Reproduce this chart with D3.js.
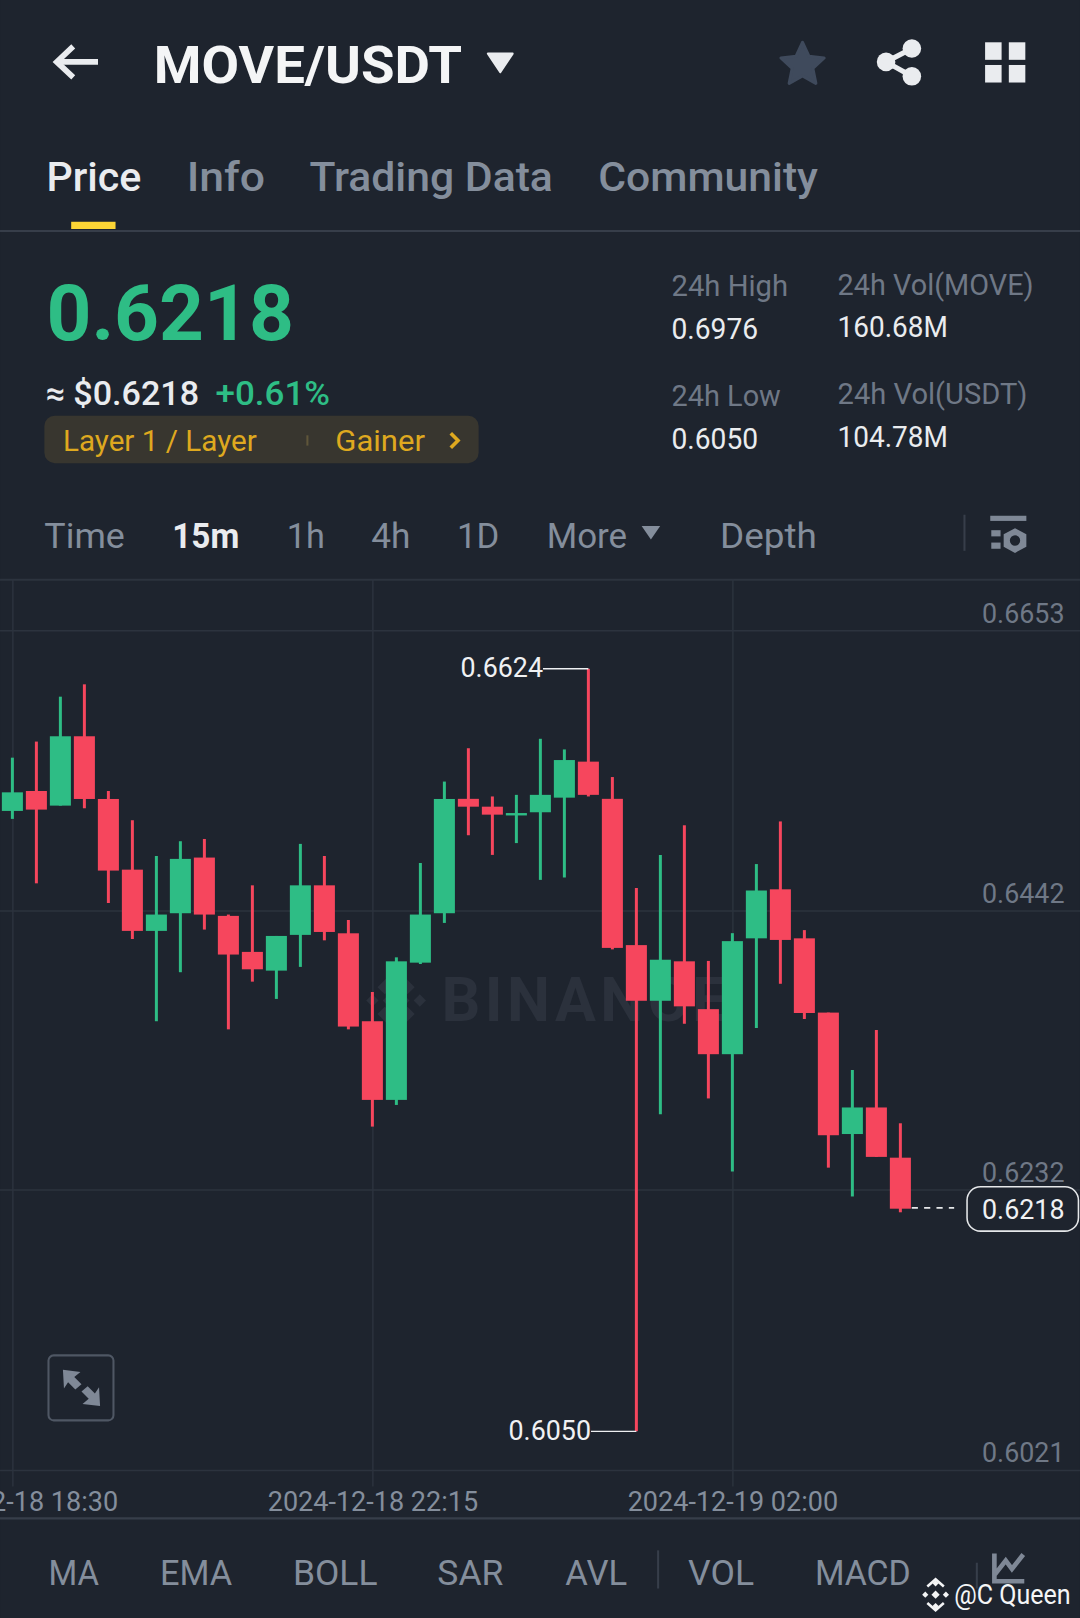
<!DOCTYPE html>
<html>
<head>
<meta charset="utf-8">
<script src="https://cdn.jsdelivr.net/npm/d3@7/dist/d3.min.js"></script>
<style>
html,body{margin:0;padding:0;background:#1e242e;overflow:hidden}
svg{display:block}
text{font-family:Roboto,"Noto Sans",sans-serif}
</style>
</head>
<body>
<svg id="c"></svg>
<script>
// ---- chart values ----
const opens  = [.65170,.65320,.65210,.65732,.65260,.64728,.64267,.64400,.64819,.64380,.64109,.63968,.64237,.64610,.64249,.63587,.62995,.64028,.64400,.65261,.65202,.65136,.65160,.65270,.65541,.65261,.64160,.63741,.64038,.63678,.63339,.64211,.64580,.64211,.63652,.62738,.62938,.62560];
const closes = [.65310,.65180,.65732,.65260,.64721,.64267,.64390,.64809,.64390,.64089,.63978,.64229,.64610,.64259,.63547,.62995,.64038,.64390,.65260,.65202,.65142,.65154,.65291,.65553,.65291,.64139,.63741,.64050,.63699,.63339,.64190,.64571,.64199,.63649,.62729,.62938,.62566,.62176];
const highs  = [.65571,.65692,.66030,.66123,.65320,.65100,.64831,.64942,.64959,.64390,.64610,.64229,.64922,.64831,.64349,.63807,.64068,.64778,.65391,.65642,.65279,.65291,.65713,.65633,.66240,.65425,.64589,.64839,.65062,.64041,.64250,.64770,.65091,.64273,.63652,.63220,.63521,.62819];
const lows   = [.65110,.64625,.65210,.65190,.64477,.64206,.63587,.63956,.64277,.63526,.63885,.63755,.63996,.64196,.63526,.62794,.62957,.64018,.64327,.64987,.64839,.64928,.64651,.64669,.65279,.64128,.60500,.62887,.63568,.63006,.62456,.63536,.63869,.63604,.62485,.62268,.62566,.62149];
const priceTicks = [0.6653,0.6442,0.6232,0.6021];
const timeTickIndex = [0,15,30];
const timeTickLabels = ["2024-12-18 18:30","2024-12-18 22:15","2024-12-19 02:00"];
const lastPrice = 0.6218, maxMark = 0.6624, minMark = 0.6050;

// ---- colours ----
const BG="#1e242e",GREEN="#2ebd85",RED="#f6465d",GRID="#2c333e",RULE="#373e4a",GRAY="#848e9c",AXIS="#6f7886",WHITE="#eaecef",GOLD="#dfa91f";

const W=1047,H=1568;
const svg=d3.select("#c").attr("width",1080).attr("height",1618).attr("viewBox",`0 0 ${W} ${H*1618/1617.4}`);
svg.append("rect").attr("width",W).attr("height",H+2).attr("fill",BG);

// ---- page text: string, x, baseline, size, width, colour, weight ----
const pageText=[
 ["MOVE/USDT",149,80,51,299,"#f4f5f6",700],
 ["Price",45,185,39,92,WHITE,500],["Info",181,185,39,76,GRAY,500],["Trading Data",300,185,39,236,GRAY,500],["Community",580,185,39,213,GRAY,500],
 ["0.6218",45,330,76,240,GREEN,700],
 ["≈ $0.6218",44,393,33,149,WHITE,500],["+0.61%",209,393,33,111,GREEN,500],
 ["Layer 1 / Layer",61,437,29,188,GOLD,400],["Gainer",325,437,29,87,GOLD,400],
 ["24h High",651,287,29,113,AXIS,400],["0.6976",651,329,29,84,WHITE,400],
 ["24h Vol(MOVE)",812,286,29,190,AXIS,400],["160.68M",812,327,29,107,WHITE,400],
 ["24h Low",651,394,29,106,AXIS,400],["0.6050",651,435,29,84,WHITE,400],
 ["24h Vol(USDT)",812,392,29,184,AXIS,400],["104.78M",812,433,29,107,WHITE,400],
 ["Time",43,531,34,78,GRAY,400],["15m",167,531,34,65,WHITE,700],["1h",278,531,34,37,GRAY,400],["4h",360,531,34,38,GRAY,400],["1D",443,531,34,41,GRAY,400],["More",530,531,34,78,GRAY,400],["Depth",698,531,34,94,GRAY,400],
 ["MA",47,1537,34,49,GRAY,400],["EMA",155,1537,34,70,GRAY,400],["BOLL",284,1537,34,82,GRAY,400],["SAR",424,1537,34,64,GRAY,400],["AVL",548,1537,34,60,GRAY,400],["VOL",667,1537,34,64,GRAY,400],["MACD",790,1537,34,93,GRAY,400]
];

// ---- scales ----
const x=d3.scaleLinear().domain([0,30]).range([12,710]);
const y=d3.scaleLinear().domain([priceTicks[0],priceTicks[3]]).range([611,1425]);

// ---- watermark under the candles ----
const wm=svg.append("g").attr("fill","#2b313c");
wm.append("text").text("BINANCE").attr("x",428).attr("y",990).attr("font-size",59).attr("font-weight",700)
  .attr("textLength",276).attr("lengthAdjust","spacing");
[[384,970,13],[361,970,6],[407,970,6]].forEach(d=>wm.append("path").attr("d",`M${d[0]-d[2]} ${d[1]}L${d[0]} ${d[1]-d[2]}L${d[0]+d[2]} ${d[1]}L${d[0]} ${d[1]+d[2]}Z`));
wm.append("path").attr("d","M384 939L402 957L395 964L384 953L373 964L366 957Z");
wm.append("path").attr("d","M384 1001L402 983L395 976L384 987L373 976L366 983Z");

// ---- axes & grid ----
svg.append("line").attr("x1",0).attr("x2",W).attr("y1",562).attr("y2",562).attr("stroke",GRID).attr("stroke-width",2);
const yAxis=svg.append("g").attr("transform",`translate(${W},0)`)
  .call(d3.axisLeft(y).tickValues(priceTicks).tickSize(W).tickPadding(0).tickFormat(d3.format(".4f")));
yAxis.select(".domain").remove();
yAxis.selectAll(".tick line").attr("stroke",GRID).attr("stroke-width",1.4);
yAxis.selectAll(".tick text").attr("x",-95).attr("y",-8).attr("dy",0).attr("text-anchor","start")
  .attr("fill",AXIS).attr("font-size",27).attr("textLength",80).attr("lengthAdjust","spacingAndGlyphs").style("font-family","Roboto");

const xAxis=svg.append("g").attr("transform","translate(0,1441)")
  .call(d3.axisBottom(x).tickValues(timeTickIndex).tickSize(-879).tickFormat((d,i)=>timeTickLabels[i]));
xAxis.select(".domain").remove();
xAxis.selectAll(".tick line").attr("stroke",GRID).attr("stroke-width",1.4);
xAxis.selectAll(".tick text").attr("y",24).attr("dy",0).attr("fill",GRAY).attr("font-size",27)
  .attr("textLength",204).attr("lengthAdjust","spacingAndGlyphs").style("font-family","Roboto");

// ---- candles ----
const idx=d3.range(opens.length);
const colour=i=>closes[i]>=opens[i]?GREEN:RED;
const cg=svg.append("g");
cg.selectAll("line.w").data(idx).join("line").attr("class","w")
  .attr("x1",x).attr("x2",x).attr("y1",i=>y(highs[i])).attr("y2",i=>y(lows[i]))
  .attr("stroke",colour).attr("stroke-width",2.9);
cg.selectAll("rect.b").data(idx).join("rect").attr("class","b")
  .attr("x",i=>x(i)-10.2).attr("width",20.4)
  .attr("y",i=>y(Math.max(opens[i],closes[i])))
  .attr("height",i=>Math.max(2,Math.abs(y(opens[i])-y(closes[i]))))
  .attr("fill",colour);

// ---- high/low markers ----
const hiI=highs.indexOf(d3.max(highs)),loI=lows.indexOf(d3.min(lows));
const mark=(val,i)=>{
  svg.append("line").attr("x1",x(i)-44).attr("x2",x(i)).attr("y1",y(val)).attr("y2",y(val)).attr("stroke","#eef0f2").attr("stroke-width",1.4);
  svg.append("text").text(d3.format(".4f")(val)).attr("x",x(i)-124).attr("y",y(val)+8)
    .attr("textLength",80).attr("lengthAdjust","spacingAndGlyphs")
    .attr("fill","#f0f1f3").attr("font-size",27);
};
mark(maxMark,hiI);mark(minMark,loI);

// ---- last price ----
svg.append("line").attr("x1",x(37)+11).attr("x2",925).attr("y1",1171).attr("y2",1171)
  .attr("stroke","#e6e8ea").attr("stroke-width",1.6).attr("stroke-dasharray","6 6");
svg.append("rect").attr("x",937.5).attr("y",1150.5).attr("width",108).attr("height",43).attr("rx",13)
  .attr("fill",BG).attr("stroke","#e6e8ea").attr("stroke-width",1.5);
svg.append("text").text(d3.format(".4f")(lastPrice)).attr("x",952).attr("y",1182)
  .attr("textLength",80).attr("lengthAdjust","spacingAndGlyphs")
  .attr("fill","#f0f1f3").attr("font-size",27);

// ---- header shapes ----
const arrow=svg.append("g").attr("fill","none").attr("stroke",WHITE).attr("stroke-width",5.5);
arrow.append("path").attr("d","M55 60H95");
arrow.append("path").attr("d","M71 45L55 60L71 75");
svg.append("path").attr("d","M473 52H497L485 70Z").attr("fill",WHITE).attr("stroke",WHITE).attr("stroke-width",2).attr("stroke-linejoin","round");
// star
const star=d3.range(10).map(i=>{const r=i%2?10.5:22,a=-Math.PI/2+i*Math.PI/5;return [778+r*Math.cos(a),63+r*Math.sin(a)];});
svg.append("path").attr("d",d3.line()(star)+"Z").attr("fill","#3f4a5c").attr("stroke","#3f4a5c").attr("stroke-width",3).attr("stroke-linejoin","round");
// share
const sh=svg.append("g").attr("fill",WHITE);
[[884,47,9],[859,60,9],[884,74,9]].forEach(d=>sh.append("circle").attr("cx",d[0]).attr("cy",d[1]).attr("r",d[2]));
sh.append("path").attr("d","M884 47L859 60L884 74").attr("fill","none").attr("stroke",WHITE).attr("stroke-width",5);
// grid
[[955,41],[978,41],[955,63],[978,63]].forEach(d=>svg.append("rect").attr("x",d[0]).attr("y",d[1]).attr("width",16).attr("height",17).attr("fill",WHITE));
// tab underline & rule
svg.append("rect").attr("x",69).attr("y",215).attr("width",43).attr("height",7).attr("fill","#fcd535");
svg.append("line").attr("x1",0).attr("x2",W).attr("y1",224).attr("y2",224).attr("stroke",RULE).attr("stroke-width",2);
// badge
svg.append("rect").attr("x",43).attr("y",403).attr("width",421).attr("height",46).attr("rx",10).attr("fill","#38362f");
svg.append("line").attr("x1",298).attr("x2",298).attr("y1",422).attr("y2",432).attr("stroke","#5f563a").attr("stroke-width",2);
svg.append("path").attr("d","M437 420L444 427L437 434").attr("fill","none").attr("stroke",GOLD).attr("stroke-width",3.5);
// interval row
svg.append("path").attr("d","M622 510H640L631 523Z").attr("fill",GRAY);
svg.append("line").attr("x1",935).attr("x2",935).attr("y1",499).attr("y2",534).attr("stroke",RULE).attr("stroke-width",2);
const st=svg.append("g").attr("fill","#7f8896");
st.append("rect").attr("x",960).attr("y",500).attr("width",35).attr("height",5);
st.append("rect").attr("x",961).attr("y",514).attr("width",9).attr("height",6);
st.append("rect").attr("x",961).attr("y",526).attr("width",9).attr("height",6);
st.append("path").attr("fill-rule","evenodd").attr("d","M984 512L995 518V530L984 536L973 530V518ZM984 519A5 5 0 1 0 984 529A5 5 0 1 0 984 519Z");
// expand button
svg.append("rect").attr("x",47).attr("y",1314).attr("width",63).attr("height",63).attr("rx",5).attr("fill","none").attr("stroke","#4f5764").attr("stroke-width",2);
const ex="M61 1328L78 1330L72 1335L79 1342L73 1347L66 1340L62 1346Z";
svg.append("path").attr("d",ex).attr("fill","#7f8896");
svg.append("path").attr("d",ex).attr("fill","#7f8896").attr("transform","rotate(180 79 1345.5)");
// bottom bar
svg.append("line").attr("x1",0).attr("x2",W).attr("y1",1472).attr("y2",1472).attr("stroke",RULE).attr("stroke-width",2);
[[638,1503,1540],[947,1515,1540]].forEach(d=>svg.append("line").attr("x1",d[0]).attr("x2",d[0]).attr("y1",d[1]).attr("y2",d[2]).attr("stroke",RULE).attr("stroke-width",2));
svg.append("path").attr("d","M964 1506V1533H993M964 1527L975 1513L981 1521L992 1507").attr("fill","none").attr("stroke","#7f8896").attr("stroke-width",4.5);

// ---- page text ----
svg.append("g").selectAll("text").data(pageText).join("text")
  .text(d=>d[0]).attr("x",d=>d[1]).attr("y",d=>d[2]).attr("font-size",d=>d[3])
  .attr("textLength",d=>d[4]).attr("lengthAdjust","spacingAndGlyphs")
  .attr("fill",d=>d[5]).attr("font-weight",d=>d[6]);

// ---- credit mark ----
const cr=svg.append("g").attr("fill","#f4f5f6");
[[907,1546,4],[897,1546,3],[917,1546,3],[907,1535,3],[907,1557,3]].forEach(d=>cr.append("path").attr("d",`M${d[0]-d[2]} ${d[1]}L${d[0]} ${d[1]-d[2]}L${d[0]+d[2]} ${d[1]}L${d[0]} ${d[1]+d[2]}Z`));
cr.append("path").attr("d","M899 1538L907 1531L915 1538M899 1554L907 1561L915 1554").attr("fill","none").attr("stroke","#f4f5f6").attr("stroke-width",2.5);
cr.append("text").text("@C Queen").attr("x",925).attr("y",1555).attr("font-size",26).attr("textLength",113).attr("lengthAdjust","spacingAndGlyphs");
</script>
</body>
</html>
